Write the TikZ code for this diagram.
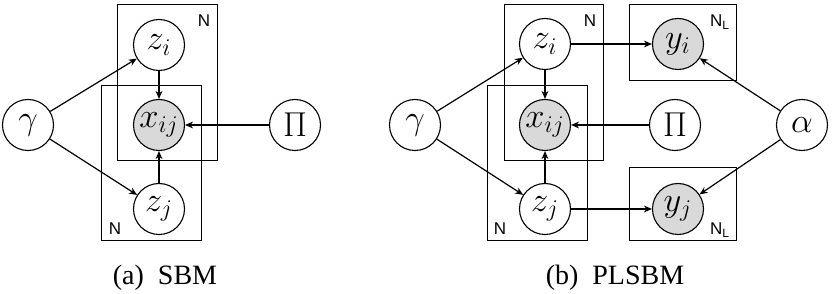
\documentclass[tikz,border=0pt]{standalone}
\usepackage{amsmath,amssymb}
\usepackage{fontspec}
\setmainfont{Liberation Serif}
\newfontfamily\platefont{Liberation Sans}
\usetikzlibrary{arrows.meta}

\tikzset{
    var/.style={circle, draw, line width=0.55pt, fill=white, minimum size=25.5pt, inner sep=0pt,
        font=\fontsize{16.5}{18}\selectfont},
    obs/.style={var, fill=gray!30},
    edge/.style={->, line width=0.6pt},
    plate/.style={draw, line width=0.5pt},
    platelabel/.style={font=\platefont\fontsize{8.5}{10}\selectfont, inner sep=0pt},
    caption/.style={font=\fontsize{14}{16}\selectfont, inner sep=0pt}
}

\begin{document}
\begin{tikzpicture}[x=0.5pt,y=-0.5pt,>={Stealth[length=4pt,width=3.4pt]}]

    % --- Canvas ---
    \fill[white] (0,0) rectangle (832,294);
    \useasboundingbox (0,0) rectangle (832,294);

    % --- (a) SBM: plates ---
    \draw[plate] (117,5) rectangle (217,161);
    \node[platelabel] (plateNa) at (204,21) {N};
    \draw[plate] (101,86) rectangle (201,241);
    \node[platelabel] (plateNb) at (115,229) {N};

    % --- (a) SBM: variables ---
    \node[var] (gammaA) at (28,125) {$\gamma$};
    \node[var] (ziA) at (159,45) {$z_i$};
    \node[obs] (xijA) at (159,125) {$x_{ij}$};
    \node[var] (zjA) at (159,209) {$z_j$};
    \node[var] (piA) at (295,125) {$\Pi$};

    \draw[edge] (gammaA) -- (ziA);
    \draw[edge] (gammaA) -- (zjA);
    \draw[edge] (ziA) -- (xijA);
    \draw[edge] (zjA) -- (xijA);
    \draw[edge] (piA) -- (xijA);

    \node[caption] (capA) at (165,278) {(a)\enspace SBM};

    % --- (b) PLSBM: plates ---
    \draw[plate] (504,5) rectangle (603,161);
    \node[platelabel] (plateNc) at (590,21) {N};
    \draw[plate] (487,86) rectangle (587,241);
    \node[platelabel] (plateNd) at (500,229) {N};
    \draw[plate] (629,5) rectangle (736,81);
    \node[platelabel] (plateNLa) at (720,22) {N\textsubscript{\fontsize{6}{7}\selectfont L}};
    \draw[plate] (629,168) rectangle (736,241);
    \node[platelabel] (plateNLb) at (720,230) {N\textsubscript{\fontsize{6}{7}\selectfont L}};

    % --- (b) PLSBM: variables ---
    \node[var] (gammaB) at (415,125) {$\gamma$};
    \node[var] (ziB) at (545,44) {$z_i$};
    \node[obs] (xijB) at (545,125) {$x_{ij}$};
    \node[var] (zjB) at (545,209) {$z_j$};
    \node[var] (piB) at (675,125) {$\Pi$};
    \node[var] (alphaB) at (802,125) {$\alpha$};
    \node[obs] (yiB) at (678,44) {$y_i$};
    \node[obs] (yjB) at (678,209) {$y_j$};

    \draw[edge] (gammaB) -- (ziB);
    \draw[edge] (gammaB) -- (zjB);
    \draw[edge] (ziB) -- (xijB);
    \draw[edge] (zjB) -- (xijB);
    \draw[edge] (piB) -- (xijB);
    \draw[edge] (ziB) -- (yiB);
    \draw[edge] (zjB) -- (yjB);
    \draw[edge] (alphaB) -- (yiB);
    \draw[edge] (alphaB) -- (yjB);

    \node[caption] (capB) at (615,278) {(b)\enspace PLSBM};

\end{tikzpicture}
\end{document}
